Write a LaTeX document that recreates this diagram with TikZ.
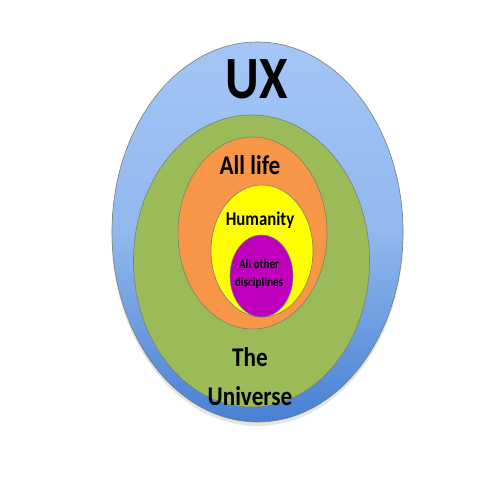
\documentclass[tikz,border=0pt]{standalone}
\usepackage{graphicx}
\usepackage{fontspec}
\setmainfont{Carlito}
\definecolor{bluetop}{RGB}{163,198,246}
\definecolor{bluebot}{RGB}{72,128,212}
\definecolor{greenf}{RGB}{155,187,89}
\definecolor{orangef}{RGB}{247,150,70}
\definecolor{yellowf}{RGB}{255,255,0}
\definecolor{magentaf}{RGB}{190,0,190}
\definecolor{edgec}{RGB}{120,130,110}
\newcommand{\sqz}[1]{\scalebox{0.86}[1]{#1}}
\tikzset{
  ring/.style={draw=edgec, line width=0.6pt},
  lbl/.style={font=\bfseries, text=black, align=center, inner sep=0pt},
}
\begin{document}
\begin{tikzpicture}[x=1pt,y=-1pt]
\useasboundingbox (0,0) rectangle (480,480);
\fill[white] (0,0) rectangle (480,480);
\fill[black!10] (257.5,235) ellipse [x radius=146, y radius=191];
\shade[ring, top color=bluetop, bottom color=bluebot, middle color=bluetop!80!bluebot] (257.5,232) ellipse [x radius=145.5, y radius=190];
\fill[ring, fill=greenf] (251.5,261) ellipse [x radius=118, y radius=146];
\fill[ring, fill=orangef] (252.5,233) ellipse [x radius=74.5, y radius=96];
\fill[ring, fill=yellowf] (262,251) ellipse [x radius=51, y radius=66];
\fill[ring, fill=magentaf] (261.5,276) ellipse [x radius=31.5, y radius=41];
\node[lbl, font=\bfseries\fontsize{60}{62}\selectfont] (ux) at (257,79) {\sqz{UX}};
\node[lbl, font=\bfseries\fontsize{27}{28}\selectfont] (life) at (250,165) {\sqz{All life}};
\node[lbl, font=\bfseries\fontsize{19.5}{20}\selectfont] (hum) at (260,220) {\sqz{Humanity}};
\node[lbl, font=\bfseries\fontsize{13}{17.5}\selectfont] (disc) at (259,274) {\sqz{All other}\\\sqz{disciplines}};
\node[lbl, font=\bfseries\fontsize{27}{39}\selectfont] (uni) at (250,377) {\sqz{The}\\\sqz{Universe}};
\end{tikzpicture}
\end{document}
